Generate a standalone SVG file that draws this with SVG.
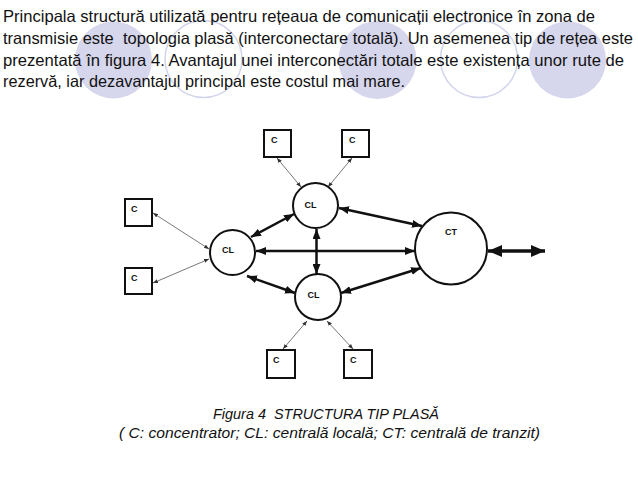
<svg xmlns="http://www.w3.org/2000/svg" width="638" height="478" viewBox="0 0 638 478">
<style>
.deco{fill:#d6d6ec;stroke:none}
.decoo{fill:none;stroke:#d2d4ec;stroke-width:1.5}
.para{font-family:"Liberation Sans",Arial,sans-serif;font-size:16.5px;fill:#111}
.box{fill:#fff;stroke:#111;stroke-width:2}
.node{fill:#fff;stroke:#111;stroke-width:2}
.lbl{font-family:"Liberation Sans",Arial,sans-serif;font-size:9px;font-weight:bold;fill:#111}
.thick{stroke:#111;stroke-width:2.5;fill:none;marker-start:url(#ah);marker-end:url(#ah)}
.thin{stroke:#555;stroke-width:0.8;fill:none;marker-start:url(#sh);marker-end:url(#sh)}
.cap{font-family:"Liberation Sans",Arial,sans-serif;font-size:15px;font-style:italic;fill:#111}
</style>
<defs>
<marker id="ah" markerUnits="userSpaceOnUse" markerWidth="10" markerHeight="8" refX="10" refY="4" orient="auto-start-reverse"><path d="M0,0 L10,4 L0,8 z" fill="#111"/></marker>
<marker id="bh" markerUnits="userSpaceOnUse" markerWidth="14" markerHeight="12" refX="14" refY="6" orient="auto-start-reverse"><path d="M0,0 L14,6 L0,12 z" fill="#111"/></marker>
<marker id="sh" markerUnits="userSpaceOnUse" markerWidth="5" markerHeight="4" refX="5" refY="2" orient="auto-start-reverse"><path d="M0,0 L5,2 L0,4 z" fill="#333"/></marker>
</defs>
<rect width="638" height="478" fill="#fff"/>
<g id="background">
<circle class="deco" cx="113.5" cy="60" r="38.5"/>
<circle class="decoo" cx="203.5" cy="59" r="38.5"/>
<circle class="deco" cx="377.5" cy="60" r="39"/>
<circle class="decoo" cx="479" cy="59" r="38.5"/>
<circle class="deco" cx="567.5" cy="60" r="38.5"/>
</g>
<g id="paragraph">
<text class="para" x="3" y="22" textLength="592" lengthAdjust="spacingAndGlyphs">Principala structură utilizată pentru rețeaua de comunicații electronice în zona de</text>
<text class="para" x="3" y="44" textLength="630" lengthAdjust="spacingAndGlyphs" xml:space="preserve">transmisie este  topologia plasă (interconectare totală). Un asemenea tip de rețea este</text>
<text class="para" x="3" y="65.5" textLength="621" lengthAdjust="spacingAndGlyphs">prezentată în figura 4. Avantajul unei interconectări totale este existența unor rute de</text>
<text class="para" x="3" y="87" textLength="402" lengthAdjust="spacingAndGlyphs">rezervă, iar dezavantajul principal este costul mai mare.</text>
</g>
<g id="connectors">
<line class="thick" x1="294" y1="214" x2="251" y2="237"/>
<line class="thick" x1="415" y1="251" x2="256" y2="251"/>
<line class="thick" x1="422" y1="226" x2="339" y2="208"/>
<line class="thick" x1="421" y1="268" x2="341" y2="293"/>
<line class="thick" x1="316.5" y1="229" x2="316.5" y2="274"/>
<line class="thick" x1="247" y1="276" x2="295" y2="293"/>
<line x1="488" y1="251" x2="545" y2="251" stroke="#111" stroke-width="3.5" marker-start="url(#bh)" marker-end="url(#bh)"/>
<line class="thin" x1="277" y1="158" x2="301" y2="187"/>
<line class="thin" x1="352" y1="158" x2="328" y2="187"/>
<line class="thin" x1="153" y1="213" x2="209" y2="249"/>
<line class="thin" x1="153" y1="283" x2="209" y2="259"/>
<line class="thin" x1="283" y1="349" x2="307" y2="321"/>
<line class="thin" x1="353" y1="349" x2="327" y2="321"/>
</g>
<g id="c_top1"><rect class="box" x="264" y="130" width="27" height="27"/><text class="lbl" x="271" y="143">C</text></g>
<g id="c_top2"><rect class="box" x="342" y="130" width="27" height="27"/><text class="lbl" x="349" y="143">C</text></g>
<g id="c_left1"><rect class="box" x="125" y="199" width="27" height="27"/><text class="lbl" x="131" y="212">C</text></g>
<g id="c_left2"><rect class="box" x="125" y="268" width="27" height="26"/><text class="lbl" x="131" y="281">C</text></g>
<g id="c_bot1"><rect class="box" x="267" y="350" width="28" height="28"/><text class="lbl" x="273" y="363">C</text></g>
<g id="c_bot2"><rect class="box" x="344" y="350" width="28" height="28"/><text class="lbl" x="350" y="363">C</text></g>
<g id="cl_top"><circle class="node" cx="315.5" cy="205.5" r="22.5"/><text class="lbl" x="310.5" y="207.5" text-anchor="middle">CL</text></g>
<g id="cl_left"><circle class="node" cx="232.5" cy="252.5" r="22.5"/><text class="lbl" x="228" y="253" text-anchor="middle">CL</text></g>
<g id="cl_bot"><circle class="node" cx="318" cy="297" r="23"/><text class="lbl" x="313.5" y="297.5" text-anchor="middle">CL</text></g>
<g id="ct"><circle class="node" cx="451" cy="248.5" r="36"/><text class="lbl" x="451" y="235" text-anchor="middle">CT</text></g>
<g id="caption">
<text class="cap" x="213" y="419" textLength="226" lengthAdjust="spacingAndGlyphs" xml:space="preserve">Figura 4  STRUCTURA TIP PLASĂ</text>
<text class="cap" x="119" y="437.5" textLength="421" lengthAdjust="spacingAndGlyphs">( C: concentrator; CL: centrală locală; CT: centrală de tranzit)</text>
</g>
</svg>
